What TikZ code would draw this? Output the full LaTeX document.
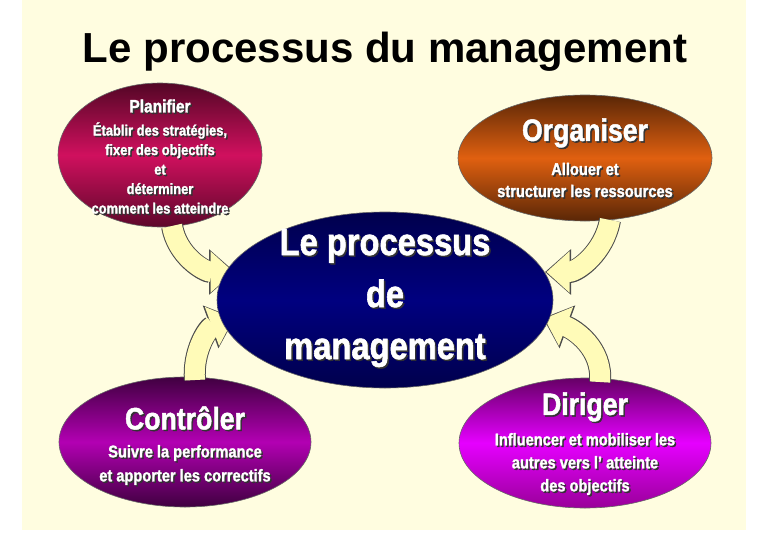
\documentclass[tikz,border=0pt]{standalone}
\usepackage{fontspec}
\setmainfont{Liberation Sans}
\newfontfamily\nar[FakeStretch=0.86,FakeBold=1.5]{Liberation Sans Bold}
\usetikzlibrary{arrows.meta,shapes.geometric}
\definecolor{pinkm}{HTML}{D0105E}
\definecolor{orgm}{HTML}{E06010}
\begin{document}
\begin{tikzpicture}[x=1pt,y=-1pt,
  ell/.style={ellipse,draw=black!60,line width=0.6pt,inner sep=0pt},
  txt/.style={text=white,align=center},
  sh/.style={text=black!80,align=center},
  arr/.style={line width=22pt,draw=black!70,-{Triangle[length=26pt,width=44pt]}},
  arrin/.style={line width=20pt,draw=yellow!28!white,-{Triangle[length=23pt,width=40pt]}}]
\useasboundingbox (0,0) rectangle (768,543);
\fill[white] (0,0) rectangle (768,543);
\fill[yellow!12!white] (22,0) rectangle (746,530);
\node[font=\bfseries] (title) at (385,52) {\fontsize{42}{44}\selectfont Le processus du management};
\node[ell,minimum width=204pt,minimum height=144pt,top color=pinkm!40!black,bottom color=pinkm!45!black,middle color=pinkm] (plan) at (160,155) {};
\node[ell,minimum width=254pt,minimum height=126pt,top color=orgm!40!black,bottom color=orgm!40!black,middle color=orgm] (org) at (585,158) {};
\node[ell,minimum width=252pt,minimum height=130pt,top color=violet!50!black,bottom color=violet!50!black,middle color=magenta!70!black] (ctrl) at (185,442) {};
\node[ell,minimum width=252pt,minimum height=130pt,top color=magenta!40!black,bottom color=magenta!60!black,middle color=magenta!90!blue] (dir) at (585,443) {};
\coordinate (a1) at (172,226); \coordinate (t1) at (235,272);
\coordinate (a2) at (195,380); \coordinate (t2) at (235,318);
\coordinate (a3) at (610,220); \coordinate (t3) at (545,272);
\coordinate (a4) at (600,382); \coordinate (t4) at (543,318);
\foreach \s/\t/\o/\i in {a1/t1/-80/180, a2/t2/95/200, a3/t3/-100/0, a4/t4/85/-20}{
  \draw[arr] (\s) to[out=\o,in=\i] (\t);
  \draw[arrin,shorten >=1.5pt] (\s) to[out=\o,in=\i] (\t);
}
\node[ell,minimum width=336pt,minimum height=176pt,top color=blue!30!black,bottom color=blue!30!black,middle color=blue!50!black] (ctr) at (385,300) {};
\foreach \st/\dx in {sh/1.5,txt/0}{
\begin{scope}[shift={(\dx,\dx)}]
\node[\st,font=\nar\fontsize{18}{19}\selectfont] at (160,106) {Planifier};
\node[\st,font=\nar\fontsize{15}{19.5}\selectfont] at (160,168) {Établir des stratégies,\\fixer des objectifs\\et\\déterminer\\comment les atteindre};
\node[\st,font=\nar\fontsize{31}{30}\selectfont] at (585,133) {Organiser};
\node[\st,font=\nar\fontsize{17}{22}\selectfont] at (585,180) {Allouer et\\structurer les ressources};
\node[\st,font=\nar\fontsize{38}{52}\selectfont] at (385,298) {Le processus\\de\\management};
\node[\st,font=\nar\fontsize{31}{30}\selectfont] at (185,418) {Contrôler};
\node[\st,font=\nar\fontsize{17}{24}\selectfont] at (185,465) {Suivre la performance\\et apporter les correctifs};
\node[\st,font=\nar\fontsize{31}{30}\selectfont] at (585,407) {Diriger};
\node[\st,font=\nar\fontsize{17}{23}\selectfont] at (585,464) {Influencer et mobiliser les\\autres vers l’ atteinte\\des objectifs};
\end{scope}}
\end{tikzpicture}
\end{document}
